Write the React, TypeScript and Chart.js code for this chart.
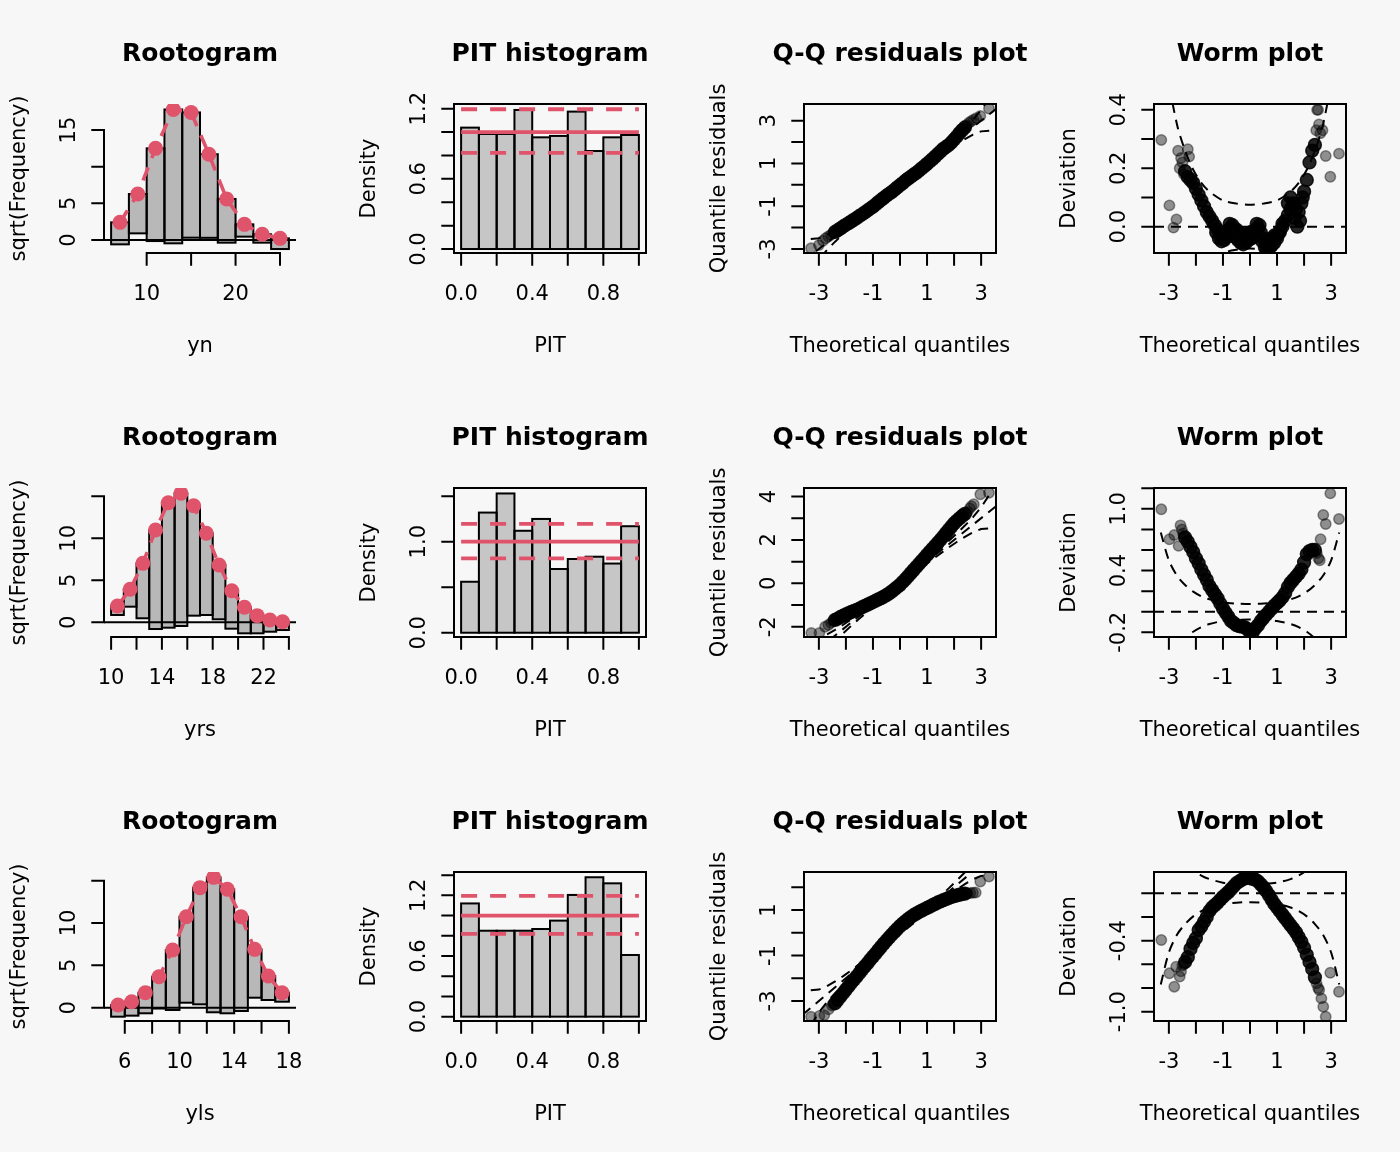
import React, { useEffect, useRef } from "react";
import { Chart, registerables } from "chart.js";

Chart.register(...registerables);

const FONT = '"DejaVu Sans", "Liberation Sans", Arial, sans-serif';
const RED = "#DF536B";
const BG = "#F7F7F7";
const ROOT_FILL = "#B8B8B8";
const PIT_FILL = "#C6C6C6";
const PT_TAIL = "rgba(0,0,0,0.42)";
const PT_CORE = "rgba(0,0,0,0.86)";

// ---------------- Row 1: yn ----------------
const ynMid = [7, 9, 11, 13, 15, 17, 19, 21, 23, 25];
const ynExpected = [2.41, 6.27, 12.5, 17.8, 17.4, 11.7, 5.6, 2.14, 0.78, 0.23];
const ynBottom = [-0.59, 0.91, -0.14, -0.45, 0.32, 0.3, -0.36, 0.46, -0.36, -1.23];
const ynXTicks = [10, 15, 20, 25];
const ynXLabels = ["10", "", "20", ""];
const ynYTicks = [0, 5, 10, 15];
const ynYLabels = ["0", "5", "", "15"];

// ---------------- Row 2: yrs ----------------
const yrsMid = [10.5, 11.5, 12.5, 13.5, 14.5, 15.5, 16.5, 17.5, 18.5, 19.5, 20.5, 21.5, 22.5, 23.5];
const yrsExpected = [1.94, 3.93, 7.02, 10.99, 14.24, 15.36, 13.88, 10.6, 6.82, 3.76, 1.79, 0.79, 0.27, 0.07];
const yrsBottom = [0.87, 1.86, 0.48, -0.8, -0.64, -0.44, 0.79, 0.87, 0.36, -0.76, -1.31, -1.31, -1.12, -0.92];
const yrsXTicks = [10, 12, 14, 16, 18, 20, 22, 24];
const yrsXLabels = ["10", "", "14", "", "18", "", "22", ""];
const yrsYTicks = [0, 5, 10, 15];
const yrsYLabels = ["0", "5", "10", ""];

// ---------------- Row 3: yls ----------------
const ylsMid = [5.5, 6.5, 7.5, 8.5, 9.5, 10.5, 11.5, 12.5, 13.5, 14.5, 15.5, 16.5, 17.5];
const ylsExpected = [0.32, 0.71, 1.77, 3.66, 6.81, 10.74, 14.17, 15.39, 13.98, 10.74, 6.89, 3.74, 1.77];
const ylsBottom = [-1.06, -0.94, -0.66, -0.1, -0.27, 0.59, 0.4, -0.54, -0.66, -0.39, 1.18, 0.91, 0.71];
const ylsXTicks = [6, 8, 10, 12, 14, 16, 18];
const ylsXLabels = ["6", "", "10", "", "14", "", "18"];
const ylsYTicks = [0, 5, 10, 15];
const ylsYLabels = ["0", "5", "10", ""];

// ---------------- PIT histograms ----------------
const pitMid = [0.05, 0.15, 0.25, 0.35, 0.45, 0.55, 0.65, 0.75, 0.85, 0.95];
const pitYn = [1.038, 0.984, 0.984, 1.189, 0.955, 0.967, 1.175, 0.838, 0.955, 0.975];
const pitYrs = [0.56, 1.32, 1.53, 1.12, 1.25, 0.7, 0.81, 0.835, 0.76, 1.17];
const pitYls = [1.12, 0.85, 0.85, 0.85, 0.867, 0.95, 1.204, 1.379, 1.319, 0.61];
const pitRefYn = [1.0, 1.195, 0.822];
const pitRefYrs = [1.0, 1.195, 0.817];
const pitRefYls = [1.0, 1.195, 0.818];
const pitXTicks = [0, 0.2, 0.4, 0.6, 0.8, 1.0];
const pitXLabels = ["0.0", "", "0.4", "", "0.8", ""];
const pitYnYTicks = [0, 0.2, 0.4, 0.6, 0.8, 1.0, 1.2];
const pitYnYLabels = ["0.0", "", "", "0.6", "", "", "1.2"];
const pitYrsYTicks = [0, 0.5, 1.0, 1.5];
const pitYrsYLabels = ["0.0", "", "1.0", ""];
const pitYlsYTicks = [0, 0.2, 0.4, 0.6, 0.8, 1.0, 1.2, 1.4];
const pitYlsYLabels = ["0.0", "", "", "0.6", "", "", "1.2", ""];

// ---------------- Q-Q and worm plots ----------------
const qTicks = [-3, -2, -1, 0, 1, 2, 3];
const qLabels = ["-3", "", "-1", "", "1", "", "3"];
const coreQ = [-2.4, -2.3, -2.2, -2.1, -2.0, -1.9, -1.8, -1.7, -1.6, -1.5, -1.4, -1.3, -1.2, -1.1, -1.0, -0.9, -0.8, -0.7, -0.6, -0.5, -0.4, -0.3, -0.2, -0.1, 0, 0.1, 0.2, 0.3, 0.4, 0.5, 0.6, 0.7, 0.8, 0.9, 1.0, 1.1, 1.2, 1.3, 1.4, 1.5, 1.6, 1.7, 1.8, 1.9, 2.0, 2.1, 2.2, 2.3, 2.4];

const bandQ = [-3.3, -3.0, -2.7, -2.4, -2.1, -1.8, -1.5, -1.0, -0.5, 0, 0.5, 1.0, 1.5, 1.8, 2.1, 2.4, 2.7, 3.0, 3.3];
const qqUpper = [-2.53, -2.5, -2.35, -2.14, -1.905, -1.65, -1.38, -0.91, -0.421, 0.075, 0.579, 1.09, 1.62, 1.95, 2.295, 2.66, 3.05, 3.5, 4.07];
const qqLower = [-4.07, -3.5, -3.05, -2.66, -2.295, -1.95, -1.62, -1.09, -0.579, -0.075, 0.421, 0.91, 1.38, 1.65, 1.905, 2.14, 2.35, 2.5, 2.53];
const qqRefX = [-3.6, 3.6];
const qqRefY = [-3.6, 3.6];
const wormUpper = [0.77, 0.5, 0.35, 0.26, 0.195, 0.15, 0.12, 0.09, 0.079, 0.075, 0.079, 0.09, 0.12, 0.15, 0.195, 0.26, 0.35, 0.5, 0.77];
const wormLower = [-0.77, -0.5, -0.35, -0.26, -0.195, -0.15, -0.12, -0.09, -0.079, -0.075, -0.079, -0.09, -0.12, -0.15, -0.195, -0.26, -0.35, -0.5, -0.77];

// Row 1 (yn)
const ynQQCore = [-2.2, -2.12, -2.04, -1.95, -1.87, -1.79, -1.71, -1.63, -1.55, -1.46, -1.38, -1.29, -1.2, -1.11, -1.02, -0.92, -0.81, -0.71, -0.61, -0.51, -0.42, -0.33, -0.23, -0.12, -0.02, 0.08, 0.19, 0.29, 0.38, 0.47, 0.56, 0.66, 0.77, 0.87, 0.98, 1.09, 1.2, 1.32, 1.44, 1.56, 1.68, 1.77, 1.86, 1.98, 2.12, 2.26, 2.42, 2.56, 2.68];
const ynQQTails: [number, number][] = [[-3.29, -2.97], [-3.0, -2.82], [-2.85, -2.62], [-2.75, -2.5], [-2.65, -2.42], [-2.55, -2.33], [-2.47, -2.27], [2.47, 2.8], [2.55, 2.9], [2.63, 2.97], [2.72, 3.05], [2.82, 3.12], [2.97, 3.22], [3.29, 3.57]];
const ynWormCore = [0.19, 0.17, 0.16, 0.15, 0.13, 0.11, 0.09, 0.07, 0.05, 0.035, 0.02, 0.005, -0.01, -0.02, -0.025, -0.02, -0.01, -0.005, -0.01, -0.01, -0.02, -0.03, -0.03, -0.025, -0.02, -0.015, -0.01, -0.005, -0.02, -0.04, -0.06, -0.05, -0.04, -0.03, -0.03, -0.015, 0.0, 0.02, 0.04, 0.06, 0.08, 0.06, 0.05, 0.08, 0.12, 0.16, 0.22, 0.26, 0.28];
const ynWormExtra: [number, number][] = [[-1.25, -0.02], [-1.15, -0.04], [-1.05, -0.05], [-0.95, -0.045], [-0.85, -0.035], [-0.75, 0.01], [-0.65, 0.005], [-0.55, -0.035], [-0.45, -0.045], [-0.35, -0.055], [-0.25, -0.06], [-0.15, -0.055], [-0.05, -0.045], [0.05, -0.04], [0.15, -0.035], [0.25, 0.01], [0.35, 0.005], [0.45, -0.05], [0.55, -0.07], [0.62, -0.085], [0.7, -0.075], [0.8, -0.065], [0.9, -0.055], [1.0, -0.04], [1.1, -0.02], [1.2, 0.01], [1.4, 0.08], [1.5, 0.1], [1.65, 0.03], [1.75, 0.0], [1.85, 0.02], [1.95, 0.1]];
const ynWormTails: [number, number][] = [[-3.28, 0.297], [-2.98, 0.073], [-2.83, -0.003], [-2.72, 0.025], [-2.66, 0.26], [-2.6, 0.2], [-2.55, 0.235], [-2.5, 0.22], [-2.45, 0.18], [-2.3, 0.265], [-2.25, 0.24], [2.45, 0.33], [2.48, 0.4], [2.52, 0.4], [2.55, 0.35], [2.6, 0.32], [2.68, 0.33], [2.8, 0.242], [2.97, 0.171], [3.29, 0.25]];
const ynQQYTicks = [-3, -2, -1, 0, 1, 2, 3];
const ynQQYLabels = ["-3", "", "-1", "", "1", "", "3"];
const ynWormYTicks = [0, 0.1, 0.2, 0.3, 0.4];
const ynWormYLabels = ["0.0", "", "0.2", "", "0.4"];

// Row 2 (yrs)
const yrsQQCore = [-1.68, -1.62, -1.55, -1.49, -1.43, -1.37, -1.32, -1.27, -1.22, -1.16, -1.1, -1.04, -0.98, -0.92, -0.86, -0.8, -0.74, -0.68, -0.61, -0.54, -0.46, -0.37, -0.27, -0.17, -0.07, 0.06, 0.19, 0.33, 0.47, 0.61, 0.75, 0.89, 1.03, 1.17, 1.31, 1.45, 1.59, 1.73, 1.87, 2.01, 2.16, 2.31, 2.46, 2.61, 2.76, 2.88, 2.99, 3.1, 3.2];
const yrsQQTails: [number, number][] = [[-3.28, -2.28], [-2.98, -2.28], [-2.77, -2.0], [-2.65, -1.92], [-2.55, -1.82], [-2.47, -1.74], [2.5, 3.3], [2.58, 3.45], [2.64, 3.55], [2.73, 3.64], [2.97, 4.1], [3.29, 4.17]];
const yrsWormCore = [0.72, 0.68, 0.63, 0.58, 0.52, 0.47, 0.41, 0.36, 0.31, 0.25, 0.21, 0.17, 0.13, 0.08, 0.03, -0.01, -0.05, -0.09, -0.11, -0.13, -0.14, -0.145, -0.15, -0.17, -0.2, -0.2, -0.16, -0.13, -0.09, -0.06, -0.03, 0.0, 0.03, 0.06, 0.085, 0.11, 0.14, 0.18, 0.24, 0.28, 0.31, 0.34, 0.37, 0.41, 0.48, 0.56, 0.59, 0.6, 0.6];
const yrsWormTails: [number, number][] = [[-3.28, 0.996], [-2.98, 0.704], [-2.8, 0.746], [-2.64, 0.64], [-2.57, 0.84], [-2.52, 0.8], [-2.47, 0.76], [-2.43, 0.74], [2.47, 0.57], [2.53, 0.52], [2.58, 0.5], [2.61, 0.704], [2.71, 0.941], [2.8, 0.853], [2.97, 1.151], [3.29, 0.902]];
const yrsQQYTicks = [-2, -1, 0, 1, 2, 3, 4];
const yrsQQYLabels = ["-2", "", "0", "", "2", "", "4"];
const yrsWormYTicks = [-0.2, 0, 0.2, 0.4, 0.6, 0.8, 1.0, 1.2];
const yrsWormYLabels = ["-0.2", "", "", "0.4", "", "", "1.0", ""];

// Row 3 (yls)
const ylsQQCore = [-3.1, -2.95, -2.8, -2.65, -2.5, -2.35, -2.2, -2.06, -1.92, -1.77, -1.62, -1.48, -1.34, -1.19, -1.05, -0.91, -0.76, -0.62, -0.48, -0.34, -0.21, -0.08, 0.05, 0.17, 0.29, 0.4, 0.5, 0.6, 0.69, 0.77, 0.84, 0.91, 0.97, 1.03, 1.09, 1.15, 1.21, 1.27, 1.33, 1.38, 1.43, 1.48, 1.53, 1.57, 1.61, 1.64, 1.67, 1.7, 1.72];
const ylsQQTails: [number, number][] = [[-3.29, -3.69], [-2.98, -3.66], [-2.8, -3.62], [-2.64, -3.37], [-2.52, -3.2], [-2.46, -3.15], [2.5, 1.73], [2.6, 1.75], [2.7, 1.76], [2.8, 1.77], [2.97, 2.25], [3.29, 2.47]];
const ylsWormCore = [-0.58, -0.54, -0.47, -0.42, -0.38, -0.31, -0.28, -0.24, -0.2, -0.15, -0.12, -0.1, -0.08, -0.055, -0.03, -0.01, 0.01, 0.035, 0.06, 0.085, 0.1, 0.115, 0.125, 0.13, 0.13, 0.125, 0.115, 0.1, 0.075, 0.05, 0.02, -0.015, -0.055, -0.09, -0.12, -0.15, -0.18, -0.21, -0.24, -0.27, -0.3, -0.33, -0.37, -0.41, -0.46, -0.52, -0.58, -0.64, -0.71];
const ylsWormTails: [number, number][] = [[-3.28, -0.395], [-2.98, -0.676], [-2.8, -0.789], [-2.73, -0.62], [-2.6, -0.704], [-2.55, -0.66], [-2.5, -0.61], [-2.45, -0.6], [2.46, -0.761], [2.52, -0.8], [2.56, -0.817], [2.64, -0.888], [2.71, -0.958], [2.8, -1.043], [2.97, -0.671], [3.29, -0.832]];
const ylsQQYTicks = [-3, -2, -1, 0, 1, 2];
const ylsQQYLabels = ["-3", "", "-1", "", "1", ""];
const ylsWormYTicks = [-1.0, -0.8, -0.6, -0.4, -0.2, 0];
const ylsWormYLabels = ["-1.0", "", "", "-0.4", "", ""];

// ---------------- layout constants ----------------
const PANEL_W = 350;
const PANEL_H = 384;
const PAD = { left: 104, top: 104, right: 54, bottom: 131 };
const TICK = 12.7;

type Axis = { min: number; max: number; ticks: number[]; labels: string[] };
type Spec = {
  kind: "bar" | "scatter";
  title: string;
  xlab: string;
  ylab: string;
  boxed: boolean;
  x: Axis;
  y: Axis;
  datasets: any[];
};

const pts = (xs: number[], ys: number[]) => xs.map((x, i) => ({ x, y: ys[i] }));
const pairs = (p: [number, number][]) => p.map(([x, y]) => ({ x, y }));

const dashed = (data: any[], color = "#000", width = 2, dash = [10, 7], order = 6) => ({
  type: "line",
  data,
  borderColor: color,
  borderWidth: width,
  borderDash: dash,
  pointRadius: 0,
  showLine: true,
  fill: false,
  tension: 0,
  order,
});

function rootogram(mid: number[], expected: number[], bottom: number[], x: Axis, y: Axis, xlab: string): Spec {
  return {
    kind: "bar",
    title: "Rootogram",
    xlab,
    ylab: "sqrt(Frequency)",
    boxed: false,
    x,
    y,
    datasets: [
      {
        type: "bar",
        data: mid.map((m, i) => ({ x: m, y: [bottom[i], expected[i]] })),
        backgroundColor: ROOT_FILL,
        borderWidth: 0,
        barPercentage: 1,
        categoryPercentage: 1,
        order: 10,
      },
      {
        type: "line",
        data: [{ x: x.min, y: 0 }, { x: x.max, y: 0 }],
        borderColor: "#000",
        borderWidth: 2,
        pointRadius: 0,
        order: 5,
      },
      {
        type: "line",
        data: pts(mid, expected),
        borderColor: RED,
        borderWidth: 3.6,
        borderDash: [14, 10],
        pointRadius: 7.5,
        pointBackgroundColor: RED,
        pointBorderWidth: 0,
        order: 1,
      },
    ],
  };
}

function pitHist(dens: number[], ref: number[], y: Axis): Spec {
  return {
    kind: "bar",
    title: "PIT histogram",
    xlab: "PIT",
    ylab: "Density",
    boxed: true,
    x: { min: -0.04, max: 1.04, ticks: pitXTicks, labels: pitXLabels },
    y,
    datasets: [
      {
        type: "bar",
        data: pitMid.map((m, i) => ({ x: m, y: [0, dens[i]] })),
        backgroundColor: PIT_FILL,
        borderWidth: 0,
        barPercentage: 1,
        categoryPercentage: 1,
        order: 10,
      },
      {
        type: "line",
        data: [{ x: 0, y: ref[0] }, { x: 1, y: ref[0] }],
        borderColor: RED,
        borderWidth: 3.8,
        pointRadius: 0,
        order: 2,
      },
      dashed([{ x: 0, y: ref[1] }, { x: 1, y: ref[1] }], RED, 3.8, [16, 13], 2),
      dashed([{ x: 0, y: ref[2] }, { x: 1, y: ref[2] }], RED, 3.8, [16, 13], 2),
    ],
  };
}

const scatterSet = (data: any[], color: string, order: number, radius = 5.2) => ({
  type: "scatter",
  data,
  pointRadius: radius,
  pointBackgroundColor: color,
  pointBorderColor: color,
  pointBorderWidth: 1.5,
  showLine: false,
  order,
});

function qqPlot(core: number[], tails: [number, number][], y: Axis): Spec {
  return {
    kind: "scatter",
    title: "Q-Q residuals plot",
    xlab: "Theoretical quantiles",
    ylab: "Quantile residuals",
    boxed: true,
    x: { min: -3.55, max: 3.55, ticks: qTicks, labels: qLabels },
    y,
    datasets: [
      scatterSet(pts(coreQ, core), PT_CORE, 1, 6.4),
      scatterSet(pairs(tails), PT_TAIL, 2),
      dashed(pts(qqRefX, qqRefY), "#000", 2, [10, 7], 6),
      dashed(pts(bandQ, qqUpper), "#000", 2, [10, 7], 6),
      dashed(pts(bandQ, qqLower), "#000", 2, [10, 7], 6),
    ],
  };
}

function wormPlot(core: number[], tails: [number, number][], extra: [number, number][], y: Axis): Spec {
  return {
    kind: "scatter",
    title: "Worm plot",
    xlab: "Theoretical quantiles",
    ylab: "Deviation",
    boxed: true,
    x: { min: -3.55, max: 3.55, ticks: qTicks, labels: qLabels },
    y,
    datasets: [
      scatterSet(pts(coreQ, core), PT_CORE, 1, 6.4),
      scatterSet(pairs(extra), PT_CORE, 1, 6.4),
      scatterSet(pairs(tails), PT_TAIL, 2),
      dashed([{ x: -3.55, y: 0 }, { x: 3.55, y: 0 }], "#000", 2, [10, 7], 6),
      { ...dashed(pts(bandQ, wormUpper), "#000", 2, [10, 7], 6), tension: 0.3 },
      { ...dashed(pts(bandQ, wormLower), "#000", 2, [10, 7], 6), tension: 0.3 },
    ],
  };
}

const SPECS: Spec[] = [
  rootogram(ynMid, ynExpected, ynBottom, { min: 5.2, max: 26.8, ticks: ynXTicks, labels: ynXLabels }, { min: -1.77, max: 18.55, ticks: ynYTicks, labels: ynYLabels }, "yn"),
  pitHist(pitYn, pitRefYn, { min: -0.034, max: 1.24, ticks: pitYnYTicks, labels: pitYnYLabels }),
  qqPlot(ynQQCore, ynQQTails, { min: -3.19, max: 3.78, ticks: ynQQYTicks, labels: ynQQYLabels }),
  wormPlot(ynWormCore, ynWormTails, ynWormExtra, { min: -0.09, max: 0.42, ticks: ynWormYTicks, labels: ynWormYLabels }),

  rootogram(yrsMid, yrsExpected, yrsBottom, { min: 9.44, max: 24.56, ticks: yrsXTicks, labels: yrsXLabels }, { min: -1.75, max: 15.99, ticks: yrsYTicks, labels: yrsYLabels }, "yrs"),
  pitHist(pitYrs, pitRefYrs, { min: -0.047, max: 1.59, ticks: pitYrsYTicks, labels: pitYrsYLabels }),
  qqPlot(yrsQQCore, yrsQQTails, { min: -2.47, max: 4.39, ticks: yrsQQYTicks, labels: yrsQQYLabels }),
  wormPlot(yrsWormCore, yrsWormTails, [], { min: -0.246, max: 1.203, ticks: yrsWormYTicks, labels: yrsWormYLabels }),

  rootogram(ylsMid, ylsExpected, ylsBottom, { min: 4.48, max: 18.52, ticks: ylsXTicks, labels: ylsXLabels }, { min: -1.57, max: 16.02, ticks: ylsYTicks, labels: ylsYLabels }, "yls"),
  pitHist(pitYls, pitRefYls, { min: -0.043, max: 1.431, ticks: pitYlsYTicks, labels: pitYlsYLabels }),
  qqPlot(ylsQQCore, ylsQQTails, { min: -3.88, max: 2.67, ticks: ylsQQYTicks, labels: ylsQQYLabels }),
  wormPlot(ylsWormCore, ylsWormTails, [], { min: -1.079, max: 0.18, ticks: ylsWormYTicks, labels: ylsWormYLabels }),
];

function makePlugin(spec: Spec) {
  return {
    id: "rbase",
    afterDatasetDraw(chart: any, args: any) {
      if (args.meta.type !== "bar") return;
      const ctx = chart.ctx;
      ctx.save();
      ctx.strokeStyle = "#000";
      ctx.lineWidth = 2;
      for (const el of args.meta.data) {
        const p = el.getProps(["x", "y", "base", "width"], true);
        const t = Math.min(p.y, p.base);
        const h = Math.abs(p.base - p.y);
        ctx.strokeRect(p.x - p.width / 2, t, p.width, h);
      }
      ctx.restore();
    },
    afterDraw(chart: any) {
      const ctx = chart.ctx;
      const a = chart.chartArea;
      const xs = chart.scales.x;
      const ys = chart.scales.y;
      ctx.save();
      ctx.strokeStyle = "#000";
      ctx.fillStyle = "#000";
      ctx.lineWidth = 2;
      ctx.lineCap = "butt";
      ctx.beginPath();
      if (spec.boxed) {
        ctx.rect(a.left, a.top, a.right - a.left, a.bottom - a.top);
      } else {
        const xt = spec.x.ticks;
        const yt = spec.y.ticks;
        ctx.moveTo(xs.getPixelForValue(xt[0]) - 1, a.bottom);
        ctx.lineTo(xs.getPixelForValue(xt[xt.length - 1]) + 1, a.bottom);
        ctx.moveTo(a.left, ys.getPixelForValue(yt[0]) + 1);
        ctx.lineTo(a.left, ys.getPixelForValue(yt[yt.length - 1]) - 1);
      }
      spec.x.ticks.forEach((v) => {
        const px = xs.getPixelForValue(v);
        ctx.moveTo(px, a.bottom);
        ctx.lineTo(px, a.bottom + TICK);
      });
      spec.y.ticks.forEach((v) => {
        const py = ys.getPixelForValue(v);
        ctx.moveTo(a.left, py);
        ctx.lineTo(a.left - TICK, py);
      });
      ctx.stroke();

      ctx.font = `21px ${FONT}`;
      ctx.textAlign = "center";
      ctx.textBaseline = "alphabetic";
      spec.x.ticks.forEach((v, i) => {
        const lab = spec.x.labels[i];
        if (lab) ctx.fillText(lab, xs.getPixelForValue(v), a.bottom + 47);
      });
      spec.y.ticks.forEach((v, i) => {
        const lab = spec.y.labels[i];
        if (!lab) return;
        ctx.save();
        ctx.translate(a.left - 29.5, ys.getPixelForValue(v));
        ctx.rotate(-Math.PI / 2);
        ctx.fillText(lab, 0, 0);
        ctx.restore();
      });
      const cx = (a.left + a.right) / 2;
      const cy = (a.top + a.bottom) / 2;
      ctx.fillText(spec.xlab, cx, a.bottom + 99);
      ctx.save();
      ctx.translate(a.left - 79.5, cy);
      ctx.rotate(-Math.PI / 2);
      ctx.fillText(spec.ylab, 0, 0);
      ctx.restore();
      ctx.font = `bold 25px ${FONT}`;
      ctx.fillText(spec.title, cx, a.top - 43);
      ctx.restore();
    },
  };
}

function Panel({ spec, left, top }: { spec: Spec; left: number; top: number }) {
  const ref = useRef<HTMLCanvasElement>(null);
  useEffect(() => {
    if (!ref.current) return;
    const chart = new Chart(ref.current, {
      type: spec.kind as any,
      data: { datasets: spec.datasets },
      options: {
        animation: false,
        responsive: false,
        maintainAspectRatio: false,
        events: [],
        layout: { padding: PAD },
        plugins: { legend: { display: false }, tooltip: { enabled: false }, title: { display: false } },
        scales: {
          x: {
            type: "linear",
            display: false,
            offset: false,
            min: spec.x.min,
            max: spec.x.max,
            afterBuildTicks: (s: any) => {
              s.ticks = spec.x.ticks.map((v) => ({ value: v }));
            },
          },
          y: {
            type: "linear",
            display: false,
            min: spec.y.min,
            max: spec.y.max,
            afterBuildTicks: (s: any) => {
              s.ticks = spec.y.ticks.map((v) => ({ value: v }));
            },
          },
        },
      } as any,
      plugins: [makePlugin(spec)],
    });
    return () => chart.destroy();
  }, [spec]);
  return (
    <canvas
      ref={ref}
      width={PANEL_W}
      height={PANEL_H}
      style={{ position: "absolute", left, top, width: PANEL_W, height: PANEL_H }}
    />
  );
}

export default function App() {
  return (
    <div
      style={{
        position: "absolute",
        left: 0,
        top: 0,
        width: 1400,
        height: 1152,
        background: BG,
        overflow: "hidden",
      }}
    >
      {SPECS.map((s, i) => (
        <Panel key={i} spec={s} left={(i % 4) * PANEL_W} top={Math.floor(i / 4) * PANEL_H} />
      ))}
    </div>
  );
}
